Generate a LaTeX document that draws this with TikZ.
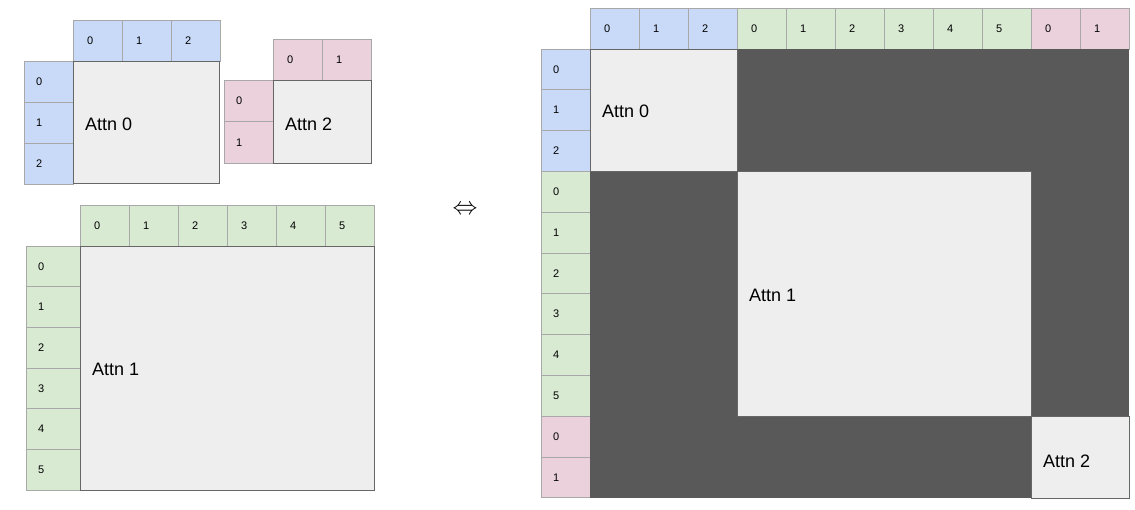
\documentclass[tikz,border=0pt]{standalone}
\usepackage{fontspec}
\setmainfont{Liberation Sans}
\usepackage{amssymb}
\definecolor{cblue}{HTML}{C9DAF8}
\definecolor{cgreen}{HTML}{D9EAD3}
\definecolor{cpink}{HTML}{EAD1DC}
\definecolor{cbox}{HTML}{EEEEEE}
\definecolor{cdark}{HTML}{595959}
\definecolor{cline}{HTML}{A8A8A8}
\begin{document}
\begin{tikzpicture}[x=1pt,y=-1pt,
  cell/.style={draw=cline,line width=1pt},
  dig/.style={anchor=west,font=\fontsize{11}{11}\selectfont,inner sep=0pt},
  attn/.style={anchor=west,font=\fontsize{18}{18}\selectfont,inner sep=0pt},
  box/.style={draw=black!60,fill=cbox,line width=1pt}]
\useasboundingbox (0,0) rectangle (1135,509);
% header row: #1 x0, #2 y0, #3 count, #4 colour, #5 cellw, #6 cellh, #7 name
\newcommand\hrowcells[7]{\foreach \i in {1,...,#3}{\pgfmathsetmacro\xa{#1+(\i-1)*#5}\pgfmathtruncatemacro\lab{\i-1}
  \draw[cell,fill=#4] (\xa,#2) rectangle ++(#5,#6);
  \node[dig] (#7h\i) at (\xa+14,#2+#6/2) {\lab};}}
\newcommand\vcolcells[7]{\foreach \i in {1,...,#3}{\pgfmathsetmacro\ya{#2+(\i-1)*#6}\pgfmathtruncatemacro\lab{\i-1}
  \draw[cell,fill=#4] (#1,\ya) rectangle ++(#5,#6);
  \node[dig] (#7v\i) at (#1+12,\ya+#6/2) {\lab};}}
% Attn 0 small
\hrowcells{73}{20}{3}{cblue}{49}{41}{a}
\vcolcells{24}{61}{3}{cblue}{49}{41}{a}
\draw[box] (73,61) rectangle (219,183);
\node[attn] (A0) at (85,124) {Attn 0};
% Attn 2 small
\hrowcells{273}{39}{2}{cpink}{49}{41}{c}
\vcolcells{224}{80}{2}{cpink}{49}{41.5}{c}
\draw[box] (273,80) rectangle (371,163);
\node[attn] (A2) at (285,124) {Attn 2};
% Attn 1 small
\hrowcells{80}{205}{6}{cgreen}{49}{41}{b}
\vcolcells{26}{246}{6}{cgreen}{54}{40.7}{b}
\draw[box] (80,246) rectangle (374,490);
\node[attn] (A1) at (92,369) {Attn 1};
% arrow
\node (eq) at (465,210) {\fontsize{26}{26}\selectfont$\Leftrightarrow$};
% big
\hrowcells{590}{8}{3}{cblue}{49}{41}{p}
\hrowcells{737}{8}{6}{cgreen}{49}{41}{q}
\hrowcells{1031}{8}{2}{cpink}{49}{41}{r}
\vcolcells{541}{49}{3}{cblue}{49}{40.8}{p}
\vcolcells{541}{171.4}{6}{cgreen}{49}{40.8}{q}
\vcolcells{541}{416.2}{2}{cpink}{49}{40.8}{r}
\fill[cdark] (590,49) rectangle (1129,498);
\draw[box] (590,49) rectangle (737,171.4);
\draw[box] (737,171.4) rectangle (1031,416.2);
\draw[box] (1031,416.2) rectangle (1129,498);
\node[attn] (B0) at (602,111) {Attn 0};
\node[attn] (B1) at (749,295) {Attn 1};
\node[attn] (B2) at (1043,461) {Attn 2};
\end{tikzpicture}
\end{document}
